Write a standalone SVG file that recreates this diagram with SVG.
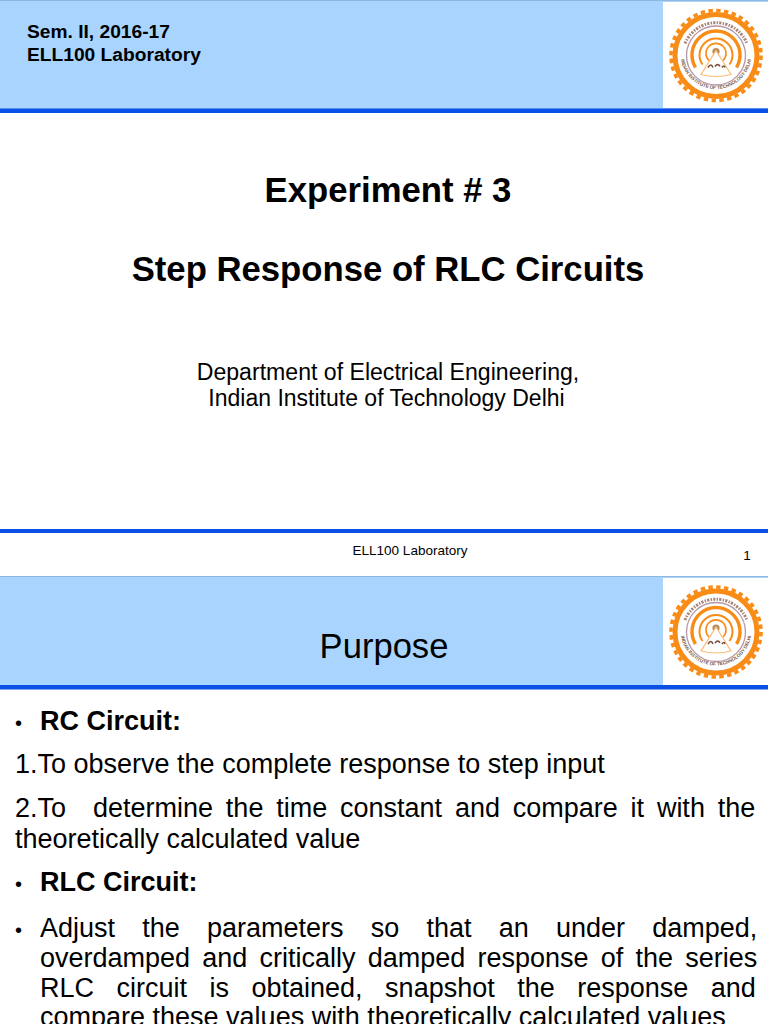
<svg xmlns="http://www.w3.org/2000/svg" xmlns:xlink="http://www.w3.org/1999/xlink" width="768" height="1024" viewBox="0 0 768 1024">
<style>
text{font-family:"Liberation Sans",Arial,sans-serif;fill:#000}
.b{font-size:27px}
.dot{font-size:20px}
.c{text-anchor:middle}
.bd{font-weight:bold}
</style>
<defs>
<g id="logo">
<circle r="45" fill="none" stroke="#f98c16" stroke-width="3.6" stroke-dasharray="4.4 3.45"/>
<circle r="41" fill="#fff" stroke="#f98c16" stroke-width="5"/>
<path id="arcE" d="M-35.500 -2A35.500 35.500 0 0 0 35.500 -2" fill="none"/>
<text font-size="4.700" font-weight="bold" style="fill:#7a5a4a;text-anchor:middle"><textPath xlink:href="#arcE" href="#arcE" startOffset="50%">INDIAN INSTITUTE OF TECHNOLOGY DELHI</textPath></text>
<path d="M-31 -12A33.500 33.500 0 0 1 31 -12" fill="none" stroke="#a98474" stroke-width="3" stroke-dasharray="2.2 1.3 1.4 1.2"/>
<circle r="29.500" fill="none" stroke="#b596a4" stroke-width="1.300"/>
<path d="M-20.500 12A24 24 0 1 1 20.500 12" fill="none" stroke="#f98c16" stroke-width="3.400"/>
<path d="M-13.500 9A16.500 16.500 0 1 1 13.500 9" fill="none" stroke="#f98c16" stroke-width="2"/>
<path d="M-7 5A10 10 0 1 1 7 5" fill="none" stroke="#f98c16" stroke-width="1.600"/>
<circle cy="-4" r="3.600" fill="#b98a5a"/>
<path d="M0 -5L15 19Q0 23-15 19Z" fill="#fff" stroke="#fbbd78" stroke-width="1.200"/>
<path d="M-8 12q3-5 5 0m2-1q3-4 5 0m2 1q2-3 3 0" fill="none" stroke="#7a4a3a" stroke-width="1.600"/>
</g>
</defs>
<rect width="768" height="1024" fill="#fff"/>
<g id="slide1-header">
<rect x="0" y="0" width="768" height="110" fill="#a8d4fe"/>
<rect x="0" y="0" width="768" height="1" fill="#8fb8dc"/>
<rect x="663" y="2" width="105" height="106" fill="#fff"/>
<rect x="0" y="108.500" width="768" height="4.500" fill="#0a50e6"/>
<text x="27" y="38" font-size="19.200" class="bd">Sem. II, 2016-17</text>
<text x="27" y="61" font-size="19.200" class="bd">ELL100 Laboratory</text>
<use href="#logo" x="716" y="55.500"/>
</g>
<g id="slide1-body">
<text x="388" y="202" font-size="34.700" class="c bd">Experiment # 3</text>
<text x="388" y="281" font-size="34.700" class="c bd">Step Response of RLC Circuits</text>
<text x="388" y="380" font-size="23.100" class="c">Department of Electrical Engineering,</text>
<text x="386.500" y="406" font-size="23" class="c">Indian Institute of Technology Delhi</text>
</g>
<g id="slide1-footer">
<rect x="0" y="529" width="768" height="4" fill="#0a50e6"/>
<text x="410" y="555" font-size="13.500" class="c">ELL100 Laboratory</text>
<text x="747" y="560" font-size="13.500" class="c">1</text>
</g>
<g id="slide2-header">
<rect x="0" y="576" width="768" height="110" fill="#a8d4fe"/>
<rect x="0" y="576" width="768" height="1" fill="#8fb8dc"/>
<rect x="663" y="578" width="105" height="107" fill="#fff"/>
<rect x="0" y="685" width="768" height="4.500" fill="#0a50e6"/>
<text x="384" y="658" font-size="34.600" class="c">Purpose</text>
<use href="#logo" x="716" y="632"/>
</g>
<g id="slide2-body">
<text x="15" y="730" class="dot">•</text>
<text x="40" y="730" class="b bd">RC Circuit:</text>
<text x="15" y="773" class="b">1.To observe the complete response to step input</text>
<text x="15" y="817" class="b">2.To</text>
<text x="93" y="817" class="b" word-spacing="5.300">determine the time constant and compare it with the</text>
<text x="15" y="848" class="b">theoretically calculated value</text>
<text x="15" y="891" class="dot">•</text>
<text x="40" y="891" class="b bd">RLC Circuit:</text>
<text x="15" y="937" class="dot">•</text>
<text x="40" y="937" class="b" word-spacing="19.700">Adjust the parameters so that an under damped,</text>
<text x="40" y="967" class="b" word-spacing="4.700">overdamped and critically damped response of the series</text>
<text x="40" y="997" class="b" word-spacing="15">RLC circuit is obtained, snapshot the response and</text>
<text x="40" y="1026" class="b">compare these values with theoretically calculated values</text>
</g>
</svg>
